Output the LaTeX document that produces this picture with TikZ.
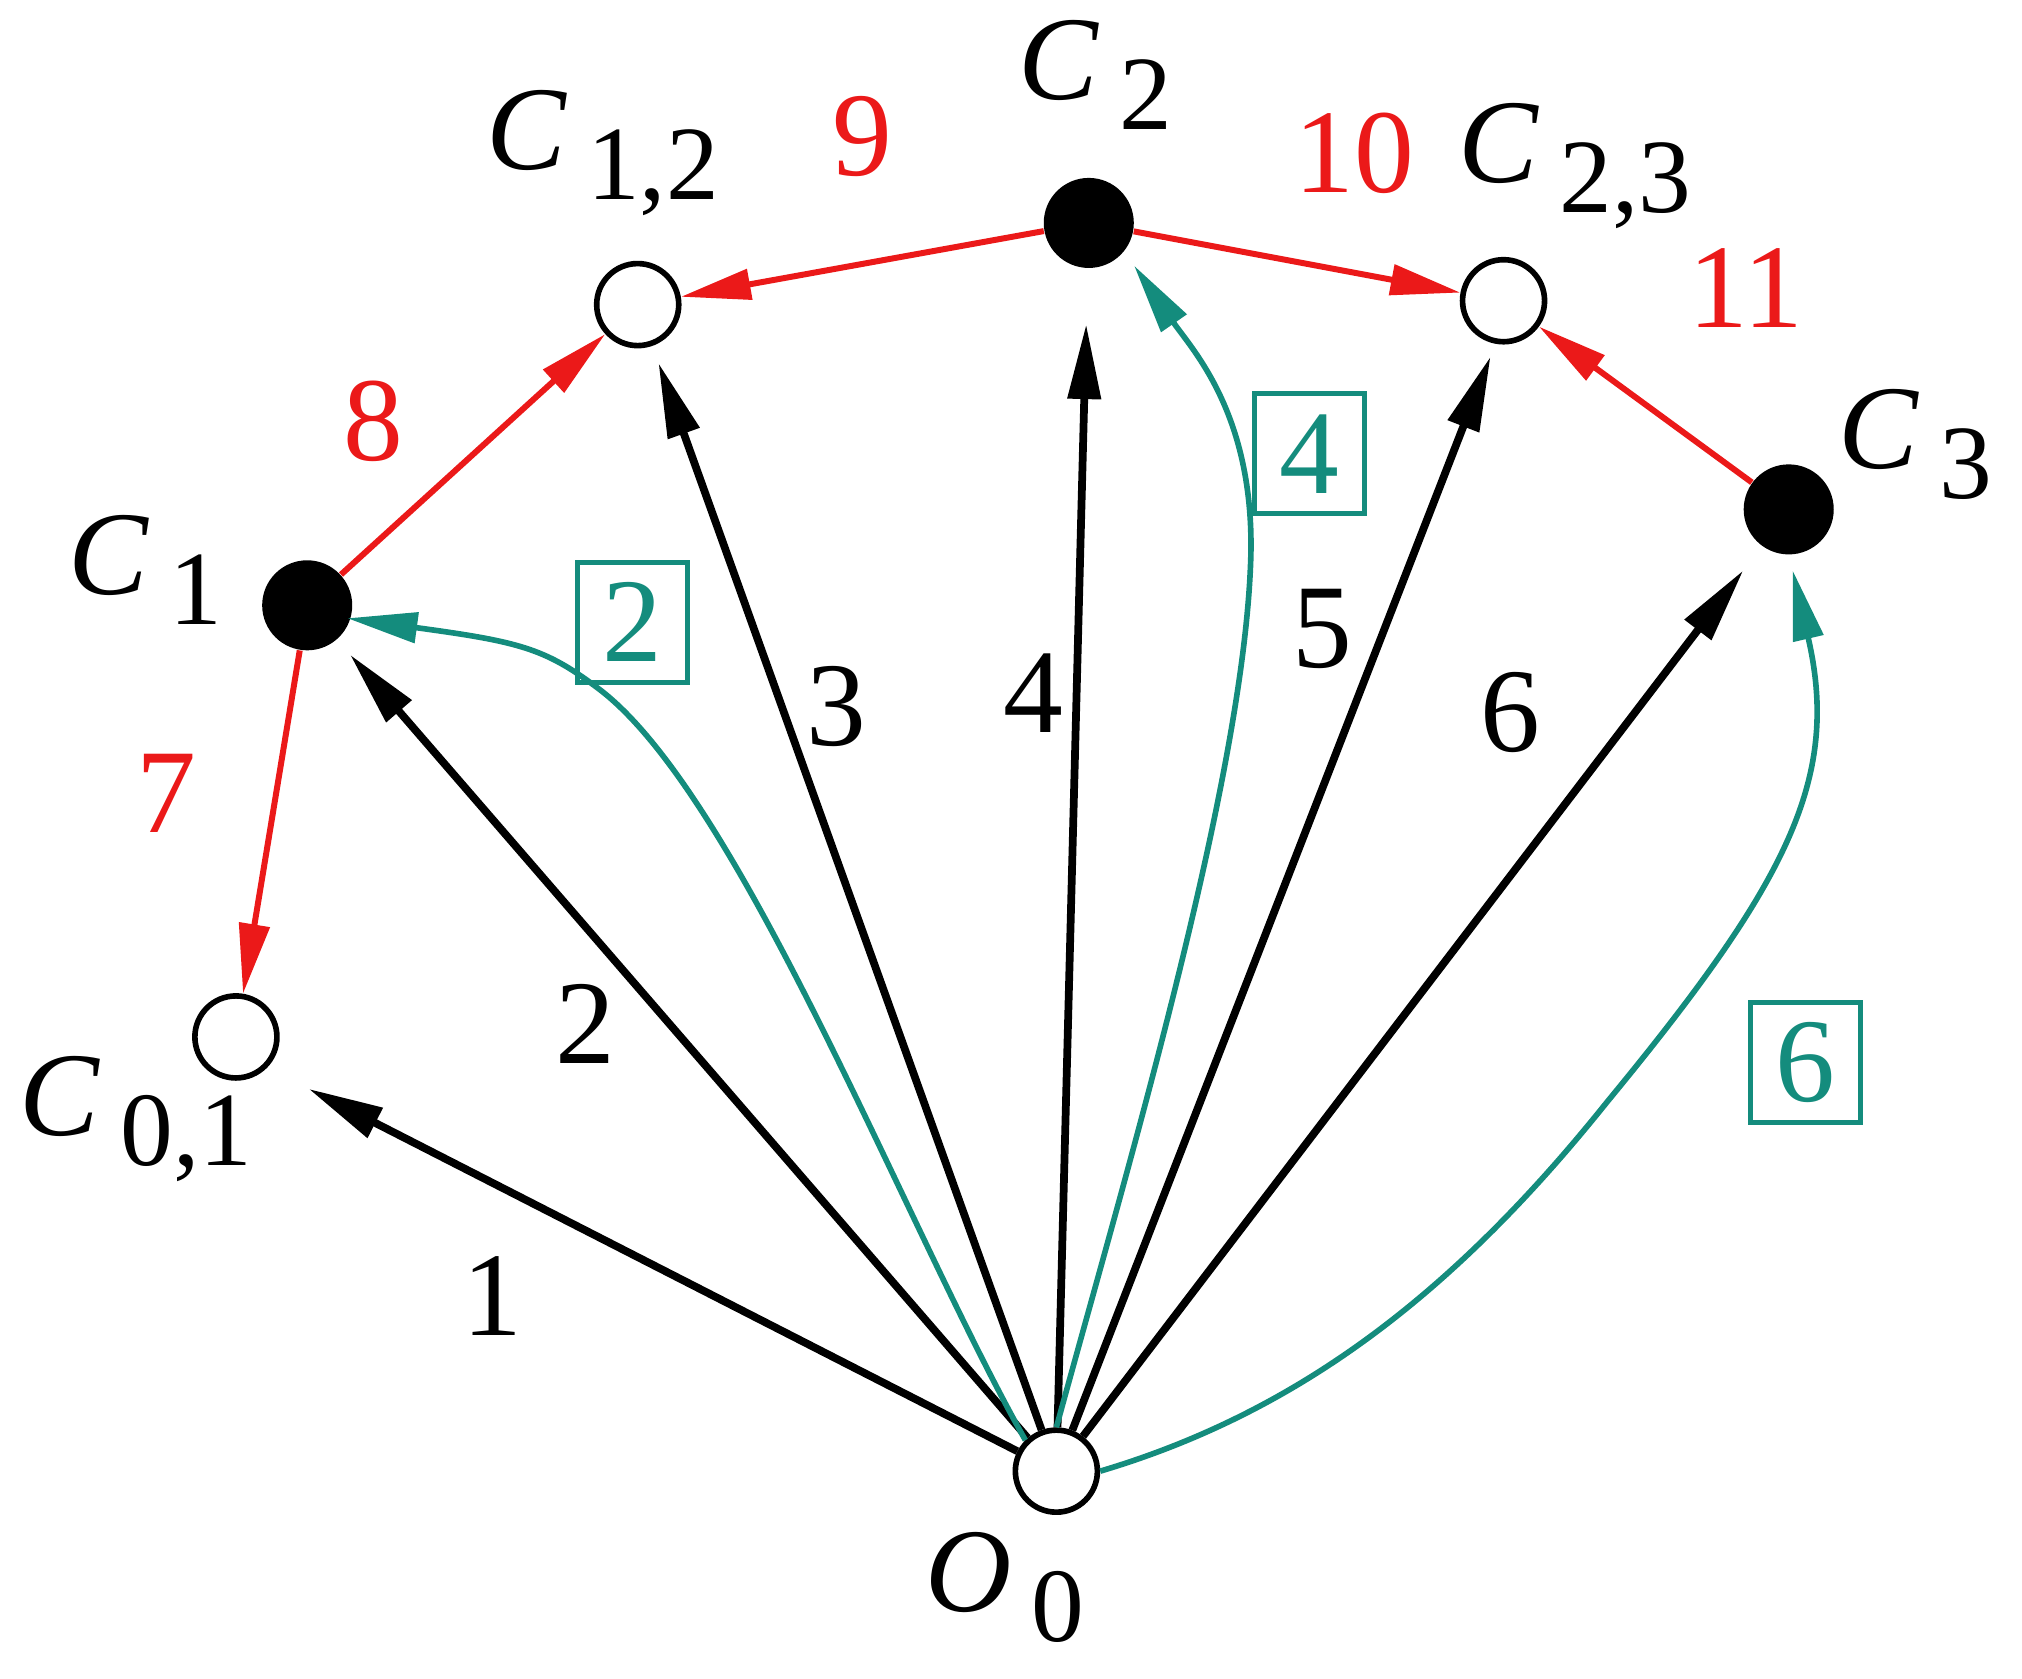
\documentclass[tikz,border=0pt]{standalone}
\usepackage{fontspec}
\setmainfont{Liberation Serif}
\usetikzlibrary{arrows.meta}
\definecolor{tealc}{RGB}{20,140,125}
\definecolor{redc}{RGB}{235,25,25}
\newcommand{\CC}[2]{\textit{#1}\,\raisebox{-0.25em}{\fontsize{30}{32}\selectfont #2}}
\begin{document}
\begin{tikzpicture}[x=0.01296cm,y=-0.01296cm,
  open/.style={circle,draw,line width=1.6pt,fill=white,minimum size=0.82cm,inner sep=0pt},
  full/.style={circle,fill=black,minimum size=0.9cm,inner sep=0pt},
  blk/.style={line width=2.2pt,-{Triangle[length=0.75cm,width=0.32cm]}},
  rd/.style={redc,line width=1.7pt,-{Triangle[length=0.7cm,width=0.3cm]}},
  tl/.style={tealc,line width=1.6pt,-{Triangle[length=0.7cm,width=0.3cm]}},
  lab/.style={font=\fontsize{34}{36}\selectfont},
  rlab/.style={lab,text=redc},
  box/.style={draw=tealc,line width=1.4pt,text=tealc,font=\fontsize{34}{36}\selectfont,inner sep=4pt,minimum width=1.1cm,minimum height=1.2cm}]
\useasboundingbox (0,0) rectangle (1560,1295);
\node[open] (O) at (815,1135) {};
\node[open] (C01) at (182,800) {};
\node[full] (C1) at (237,467) {};
\node[open] (C12) at (492,235) {};
\node[full] (C2) at (840,172) {};
\node[open] (C23) at (1160,232) {};
\node[full] (C3) at (1380,393) {};
\coordinate (e1) at (238,840);
\coordinate (e2) at (270,505);
\coordinate (e3) at (508,280);
\coordinate (e4) at (838,250);
\coordinate (e5) at (1150,275);
\coordinate (e6) at (1345,440);
\foreach \e in {e1,e2,e3,e4,e5,e6} \draw[blk] (O) -- (\e);
\node[lab] at (380,1000) {1};
\node[lab] at (452,790) {2};
\node[lab] at (645,545) {3};
\node[lab] at (797,535) {4};
\node[lab] at (1020,485) {5};
\node[lab] at (1165,550) {6};
\draw[rd] (C2) -- (C12);
\draw[rd] (C2) -- (C23);
\draw[rd] (C3) -- (C23);
\draw[rd] (C1) -- (C12);
\draw[rd] (C1) -- (C01);
\node[rlab] at (128,612) {7};
\node[rlab] at (288,325) {8};
\node[rlab] at (665,105) {9};
\node[rlab] at (1045,118) {10};
\node[rlab] at (1347,222) {11};
\coordinate (t1) at (268,477);
\coordinate (t2) at (875,205);
\coordinate (t3) at (1383,440);
\draw[tl] (O.north west) .. controls (700,950) and (570,610) .. (460,530) .. controls (420,500) and (400,495) .. (t1);
\draw[tl] (O.north) .. controls (870,900) and (960,600) .. (965,430) .. controls (968,320) and (920,270) .. (t2);
\draw[tl] (O.east) .. controls (1000,1090) and (1120,1000) .. (1240,850) .. controls (1380,680) and (1420,600) .. (t3);
\node[box] at (488,480) {2};
\node[box] at (1010,350) {4};
\node[box] at (1393,820) {6};
\node[lab] at (465,118) {\CC{C}{1,2}};
\node[lab] at (845,58) {\CC{C}{2}};
\node[lab] at (1215,128) {\CC{C}{2,3}};
\node[lab] at (1478,343) {\CC{C}{3}};
\node[lab] at (112,440) {\CC{C}{1}};
\node[lab] at (105,863) {\CC{C}{0,1}};
\node[lab] at (775,1225) {\CC{O}{0}};
\end{tikzpicture}
\end{document}
